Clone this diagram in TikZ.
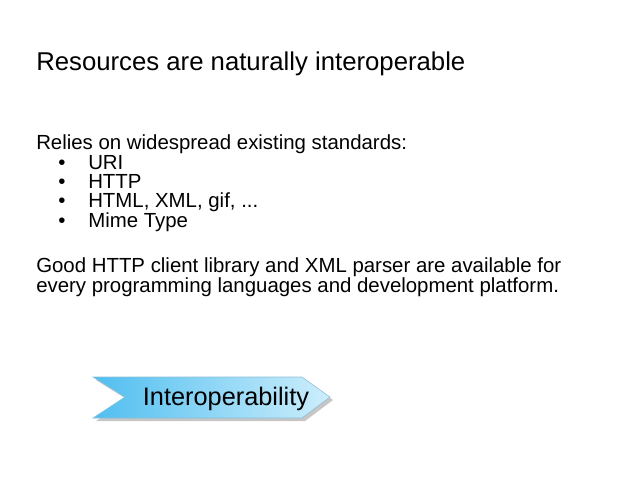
\documentclass[tikz,border=0pt]{standalone}
\usepackage{fontspec}
\setmainfont{Liberation Sans}
\begin{document}
\begin{tikzpicture}[x=0.75pt,y=-0.75pt,
  txt/.style={anchor=base west,inner sep=0pt,font=\fontsize{15.3}{18}\selectfont}]
\useasboundingbox (0,0) rectangle (638,478);
\node[anchor=base west,inner sep=0pt,font=\fontsize{19.3}{22}\selectfont] (title) at (36,70) {Resources are naturally interoperable};
\node[txt] (l1) at (36,149) {Relies on widespread existing standards:};
\foreach \y/\t [count=\i] in {169/URI,188/HTTP,207/{HTML, XML, gif, ...},227/Mime Type}{
  \node[txt] (b\i) at (58,\y) {•};
  \node[txt] (t\i) at (88,\y) {\t};
}
\node[txt] (p1) at (36,272) {Good HTTP client library and XML parser are available for};
\node[txt] (p2) at (36,292) {every programming languages and development platform.};
\fill[gray!45] (96,380) -- (305,380) -- (333,400) -- (305,421) -- (96,421) -- (128,400) -- cycle;
\shade[left color={rgb,255:red,80;green,190;blue,240}, right color={rgb,255:red,205;green,238;blue,252}, draw={rgb,255:red,140;green,190;blue,215}]
  (93,377) -- (302,377) -- (330,397) -- (302,418) -- (93,418) -- (125,397) -- cycle;
\node[inner sep=0pt,font=\fontsize{19}{22}\selectfont] (arr) at (226,399) {Interoperability};
\end{tikzpicture}
\end{document}
